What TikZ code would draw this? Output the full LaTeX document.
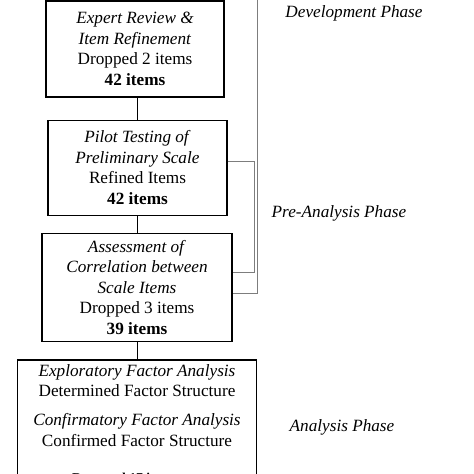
\documentclass[tikz,border=0pt]{standalone}
\usepackage{fontspec}
\setmainfont{Liberation Serif}
\usetikzlibrary{positioning, fit, backgrounds}
\definecolor{phasegray}{RGB}{125,125,125}

\begin{document}
\begin{tikzpicture}[
    node distance=20pt,
    every node/.style={font=\fontsize{17.2}{20.5}\selectfont},
    stagebox/.style={rectangle, draw=black, line width=1.2pt,
        align=center, inner sep=2pt},
    textbox/.style={rectangle, align=center, inner sep=4pt},
    countlabel/.style={font=\fontsize{13.5}{16}\selectfont\bfseries, inner sep=3pt},
    phaselabel/.style={font=\fontsize{17.2}{20.5}\selectfont\itshape},
    link/.style={line width=0.9pt, black},
    phaseline/.style={line width=0.9pt, phasegray},
]
\useasboundingbox (0pt,0pt) rectangle (474pt,-474pt);

% === STAGES ===
\node[stagebox, minimum width=178pt, minimum height=96pt] (expert) at (135pt,-49pt)
    {\textit{Expert Review \&}\\\textit{Item Refinement}\\Dropped 2 items\\\textbf{42 items}};
\node[stagebox, minimum width=179pt, minimum height=95pt, below=22pt of expert, xshift=2.5pt] (pilot)
    {\textit{Pilot Testing of}\\\textit{Preliminary Scale}\\Refined Items\\\textbf{42 items}};
\node[stagebox, minimum width=190pt, minimum height=108pt, below=17pt of pilot, xshift=-0.5pt] (assess)
    {\textit{Assessment of}\\\textit{Correlation between}\\\textit{Scale Items}\\Dropped 3 items\\\textbf{39 items}};

% Analysis box (cut at the bottom)
\node[textbox, minimum width=238pt, below=18pt of assess] (analysis)
    {\textit{Exploratory Factor Analysis}\\Determined Factor Structure\\[8.5pt]
     \textit{Confirmatory Factor Analysis}\\Confirmed Factor Structure};
\node[countlabel, below=19pt of analysis, xshift=-12.5pt] (removed) {Removed 17 items};

\begin{scope}[on background layer]
    \node[draw=black, line width=1.2pt, inner sep=0pt,
          fit=(analysis)(removed)] (analysisframe) {};
\end{scope}

% === CONNECTORS ===
\draw[link] (pilot.north) -- (pilot.north |- expert.south);
\draw[link] (assess.north) -- (assess.north |- pilot.south);
\draw[link] (analysisframe.north) -- (analysisframe.north |- assess.south);

% === PHASE BRACKETS ===
\coordinate (devtop) at (257pt,5pt);
\draw[phaseline] (devtop) |- ([yshift=-6pt]assess.east);
\draw[phaseline] ([yshift=6.5pt]pilot.east) -- ++(27pt,0) |- ([yshift=15pt]assess.east);

% === PHASE LABELS ===
\node[phaselabel] (devlabel) at (354pt,-13pt) {Development Phase};
\node[phaselabel] (prelabel) at (339pt,-213pt) {Pre-Analysis Phase};
\node[phaselabel] (analysislabel) at (342pt,-427pt) {Analysis Phase};

\end{tikzpicture}
\end{document}
